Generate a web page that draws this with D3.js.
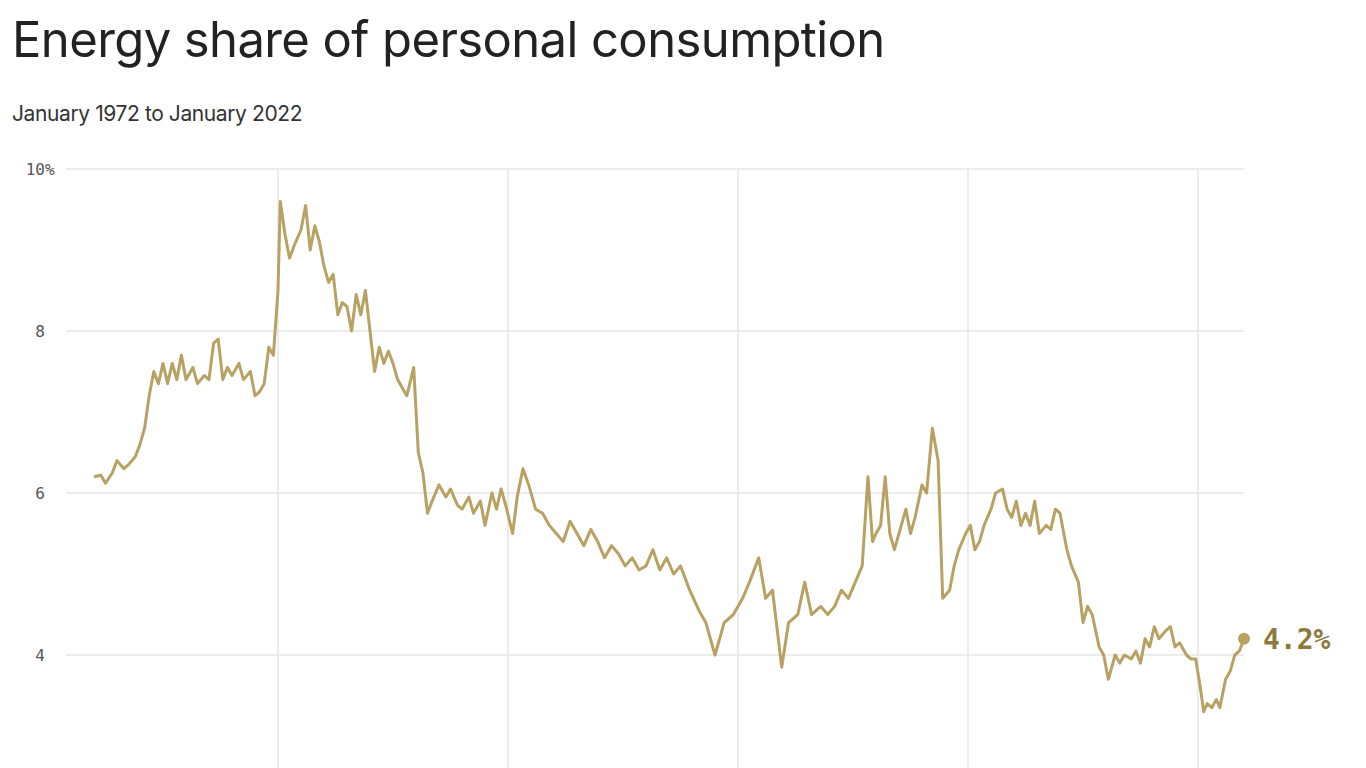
<!DOCTYPE html>
<html><head><meta charset="utf-8">
<script src="https://cdn.jsdelivr.net/npm/d3@7"></script>
<style>body{margin:0;background:#fff}</style></head>
<body><svg id="c" width="1366" height="768"></svg>
<script>
const title = "Energy share of personal consumption";
const subtitle = "January 1972 to January 2022";
const yTicks = [4, 6, 8, 10];
const xGridYears = [1980, 1990, 2000, 2010, 2020];
const years = [1972,1972.3,1972.5,1972.8,1973,1973.3,1973.5,1973.8,1974,1974.2,1974.4,1974.6,1974.8,1975,1975.2,1975.4,1975.6,1975.8,1976,1976.3,1976.5,1976.8,1977,1977.2,1977.4,1977.6,1977.8,1978,1978.3,1978.5,1978.8,1979,1979.2,1979.4,1979.6,1979.8,1980,1980.1,1980.3,1980.5,1980.7,1981,1981.2,1981.4,1981.6,1981.8,1982,1982.2,1982.4,1982.6,1982.8,1983,1983.2,1983.4,1983.6,1983.8,1984,1984.2,1984.4,1984.6,1984.8,1985,1985.2,1985.4,1985.6,1985.9,1986.1,1986.3,1986.5,1986.7,1987,1987.3,1987.5,1987.8,1988,1988.3,1988.5,1988.8,1989,1989.3,1989.5,1989.7,1989.9,1990.2,1990.4,1990.65,1990.9,1991.2,1991.5,1991.8,1992.1,1992.4,1992.7,1993,1993.3,1993.6,1993.9,1994.2,1994.5,1994.8,1995.1,1995.4,1995.7,1996,1996.3,1996.6,1996.9,1997.2,1997.5,1997.9,1998.3,1998.6,1999,1999.4,1999.8,2000.2,2000.5,2000.9,2001.2,2001.5,2001.9,2002.2,2002.6,2002.9,2003.2,2003.6,2003.9,2004.2,2004.5,2004.8,2005.1,2005.4,2005.65,2005.85,2006,2006.2,2006.4,2006.6,2006.8,2007.1,2007.3,2007.5,2007.7,2008,2008.2,2008.45,2008.7,2008.9,2009.2,2009.4,2009.6,2009.9,2010.1,2010.3,2010.5,2010.7,2011,2011.2,2011.5,2011.7,2011.9,2012.1,2012.3,2012.5,2012.7,2012.9,2013.1,2013.4,2013.6,2013.8,2014,2014.3,2014.5,2014.8,2015,2015.2,2015.4,2015.7,2015.9,2016.1,2016.4,2016.6,2016.8,2017.1,2017.3,2017.5,2017.7,2017.9,2018.1,2018.3,2018.6,2018.8,2019,2019.2,2019.5,2019.7,2019.9,2020.1,2020.25,2020.4,2020.6,2020.8,2020.95,2021.2,2021.4,2021.6,2021.8,2022];
const share = [6.2,6.22,6.12,6.25,6.4,6.3,6.35,6.45,6.6,6.8,7.2,7.5,7.35,7.6,7.35,7.6,7.4,7.7,7.4,7.55,7.35,7.45,7.4,7.85,7.9,7.4,7.55,7.45,7.6,7.4,7.5,7.2,7.25,7.35,7.8,7.7,8.5,9.6,9.2,8.9,9.05,9.25,9.55,9.0,9.3,9.1,8.8,8.6,8.7,8.2,8.35,8.3,8.0,8.45,8.2,8.5,8.0,7.5,7.8,7.6,7.75,7.6,7.4,7.3,7.2,7.55,6.5,6.25,5.75,5.9,6.1,5.95,6.05,5.85,5.8,5.95,5.75,5.9,5.6,6.0,5.8,6.05,5.85,5.5,5.95,6.3,6.1,5.8,5.75,5.6,5.5,5.4,5.65,5.5,5.35,5.55,5.4,5.2,5.35,5.25,5.1,5.2,5.05,5.1,5.3,5.05,5.2,5.0,5.1,4.8,4.55,4.4,4.0,4.4,4.5,4.7,4.9,5.2,4.7,4.8,3.85,4.4,4.5,4.9,4.5,4.6,4.5,4.6,4.8,4.7,4.9,5.1,6.2,5.4,5.5,5.6,6.2,5.5,5.3,5.6,5.8,5.5,5.7,6.1,6.0,6.8,6.4,4.7,4.8,5.1,5.3,5.5,5.6,5.3,5.4,5.6,5.8,6.0,6.05,5.8,5.7,5.9,5.6,5.75,5.6,5.9,5.5,5.6,5.55,5.8,5.75,5.3,5.1,4.9,4.4,4.6,4.5,4.1,4.0,3.7,4.0,3.9,4.0,3.95,4.05,3.9,4.2,4.1,4.35,4.2,4.3,4.35,4.1,4.15,4.0,3.95,3.95,3.6,3.3,3.4,3.35,3.45,3.35,3.7,3.8,4.0,4.05,4.2];

const svg = d3.select("#c");
const x = d3.scaleLinear().domain([1972, 2022]).range([94, 1244]);
const y = d3.scaleLinear().domain([4, 10]).range([655, 169]);

svg.append("text").attr("x",12).attr("y",57).attr("font-family","Inter, sans-serif").attr("font-size",49).attr("fill","#222").attr("letter-spacing","-0.6").text(title);
svg.append("text").attr("x",12).attr("y",121).attr("font-family","Inter, sans-serif").attr("font-size",21).attr("fill","#333").attr("letter-spacing","-0.4").text(subtitle);

svg.append("g").selectAll("line").data(yTicks).join("line")
  .attr("x1",66).attr("x2",1244).attr("y1",d=>y(d)).attr("y2",d=>y(d)).attr("stroke","#e6e6e6").attr("stroke-width",1.5);
svg.append("g").selectAll("line").data(xGridYears).join("line")
  .attr("x1",d=>x(d)).attr("x2",d=>x(d)).attr("y1",169).attr("y2",768).attr("stroke","#e6e6e6").attr("stroke-width",1.5);
const tl = svg.append("g").selectAll("text").data(yTicks).join("text")
  .attr("x",45).attr("y",d=>y(d)+6).attr("text-anchor","end").attr("font-family","'DejaVu Sans Mono', monospace").attr("font-size",16).attr("fill","#555")
  .text(d=>d);
svg.append("text").attr("x",45).attr("y",y(10)+6).attr("font-family","'DejaVu Sans Mono', monospace").attr("font-size",16).attr("fill","#555").text("%");

const pts = years.map((t,i)=>[t,share[i]]);
svg.append("path").datum(pts).attr("fill","none").attr("stroke","#b8a263").attr("stroke-width",3).attr("stroke-linejoin","round")
  .attr("d", d3.line().x(d=>x(d[0])).y(d=>y(d[1])));
const last = pts[pts.length-1];
svg.append("circle").attr("cx",x(last[0])).attr("cy",y(last[1])).attr("r",6).attr("fill","#b8a263");
svg.append("text").attr("x",x(last[0])+19).attr("y",y(last[1])+10).attr("font-family","'DejaVu Sans Mono', monospace").attr("font-size",28).attr("font-weight","bold").attr("fill","#8c7a3c").text(last[1].toFixed(1)+"%");
</script></body></html>
